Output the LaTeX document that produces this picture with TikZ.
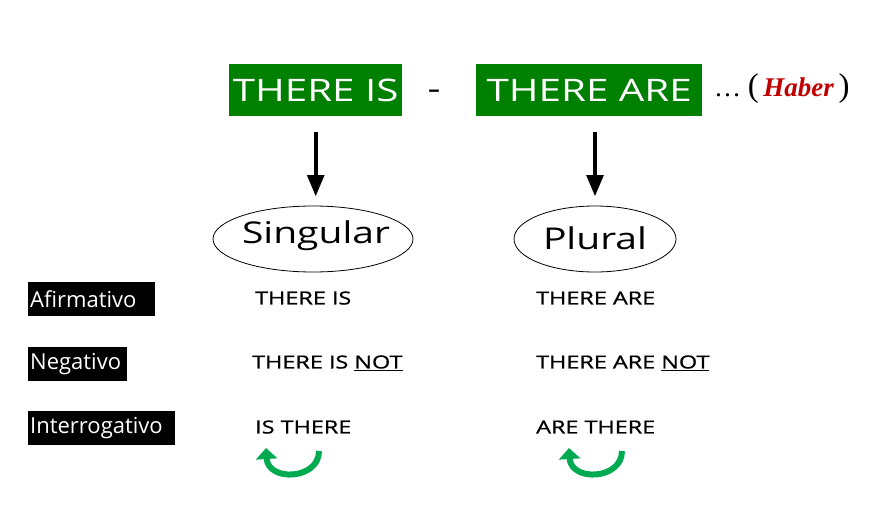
\documentclass[tikz,border=0pt]{standalone}
\usepackage{fontspec}
\setmainfont{Open Sans}[FakeStretch=1.3]
\newfontfamily\formfont{Open Sans}[FakeStretch=1.3,FakeBold=1]
\newfontfamily\labelfont{Open Sans}
\newfontfamily\timesfont{Liberation Serif}
\usetikzlibrary{arrows,arrows.meta}
\definecolor{boxgreen}{RGB}{0,128,0}
\definecolor{curvegreen}{RGB}{0,170,80}
\definecolor{haberred}{RGB}{192,0,0}
\tikzset{
  headbox/.style={fill=boxgreen,text=white,anchor=north west,minimum height=52pt,inner sep=0pt,font=\fontsize{31}{33}\selectfont},
  formbox/.style={fill=black,text=white,anchor=north west,minimum height=34pt,inner xsep=2pt,inner ysep=0pt,align=left,font=\labelfont\fontsize{22}{24}\selectfont},
  oval/.style={inner sep=0pt,font=\fontsize{30}{32}\selectfont},
  form/.style={anchor=west,inner sep=0pt,font=\formfont\fontsize{18}{20}\selectfont},
  downarrow/.style={->,line width=4pt},
  swaparrow/.style={-{Triangle[width=21pt,length=11pt]},line width=6pt,color=curvegreen}
}
\begin{document}
\begin{tikzpicture}[line cap=butt,line join=round,>=triangle 45,x=1pt,y=-1pt]
				\useasboundingbox (0,0) rectangle (889,524);
				% top line
				\node[headbox,minimum width=173pt] (is) at (229,64) {THERE IS};
				\node[headbox,minimum width=226pt] (are) at (476,64) {THERE ARE};
				\node[inner sep=0pt,font=\fontsize{31}{33}\selectfont] (dash) at (434,95) {-};
				\node[anchor=base west,inner sep=0pt,font=\timesfont\fontsize{27}{30}\selectfont] (dots) at (714,97) {\ldots\ {\fontsize{33}{35}\selectfont(}\,\textcolor{haberred}{\textbf{\textit{Haber}}}\,{\fontsize{33}{35}\selectfont)}};
				% singular / plural
				\node[oval] (sing) at (316,236) {Singular};
				\node[oval] (plur) at (595,238) {Plural};
				\draw[line width=0.8pt] (313,239) ellipse (100 and 33);
				\draw[line width=0.8pt] (595,239) ellipse (81 and 33);
				\coordinate (singtop) at (313,206);
				\coordinate (plurtop) at (595,206);
				\draw[downarrow,shorten <=16pt,shorten >=10pt] (is.south) -- (is.south |- singtop);
				\draw[downarrow,shorten <=16pt,shorten >=10pt] (are.south -| plurtop) -- (plurtop);
				% forms
				\node[formbox,text width=123pt] (afi) at (28,282) {Afirmativo};
				\node[formbox,text width=95pt] (neg) at (28,347) {Negativo};
				\node[formbox,text width=143pt] (inter) at (28,411) {Interrogativo};
				\node[form] (isA) at (255,298) {THERE IS};
				\node[form] (isN) at (252,363) {THERE IS \underline{NOT}};
				\node[form] (isQ) at (255,427) {IS THERE};
				\node[form] (areA) at (536,298) {THERE ARE};
				\node[form] (areN) at (536,363) {THERE ARE \underline{NOT}};
				\node[form] (areQ) at (536,427) {ARE THERE};
				% swap arrows
				\coordinate (isQr) at (319,451);
				\coordinate (isQl) at (266,448);
				\coordinate (areQr) at (622,451);
				\coordinate (areQl) at (569,448);
				\draw[swaparrow] (isQr) .. controls (319,480) and (268,482) .. (isQl);
				\draw[swaparrow] (areQr) .. controls (622,480) and (571,482) .. (areQl);
\end{tikzpicture}
\end{document}
